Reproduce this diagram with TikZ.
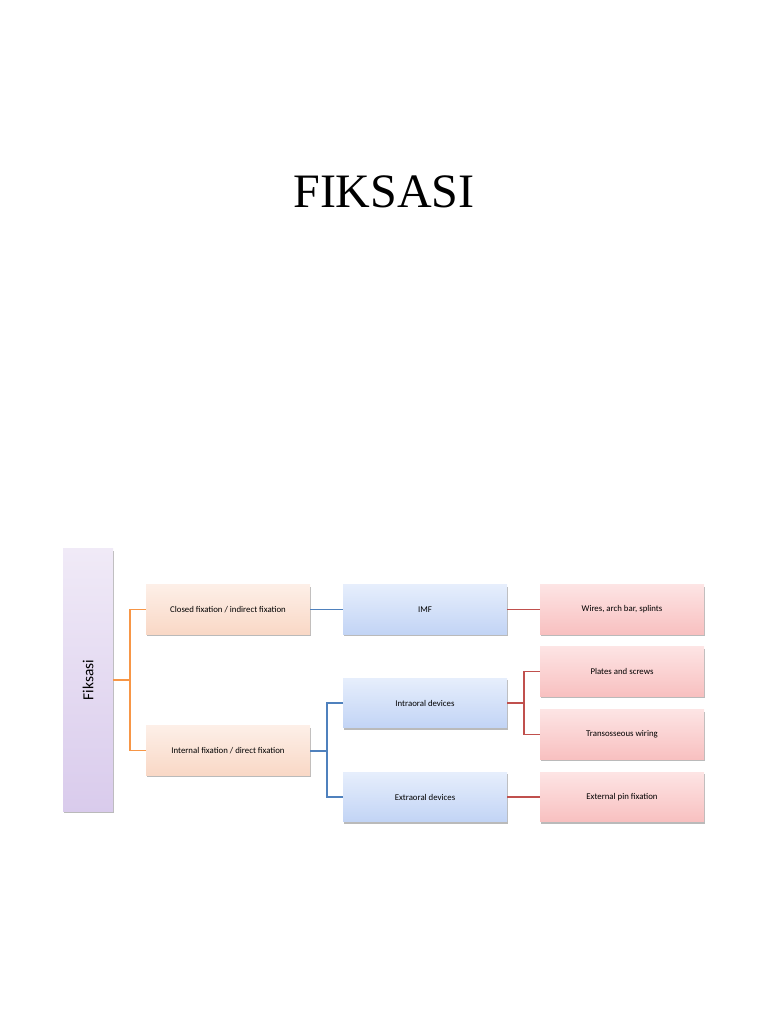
\documentclass[tikz,border=0pt]{standalone}
\usepackage{fontspec}
\setmainfont{Liberation Serif}
\newfontfamily\boxfont{Carlito}
\usetikzlibrary{positioning, shadows}

\definecolor{peachtop}{HTML}{FDEFE7}
\definecolor{peachbot}{HTML}{F9D8C6}
\definecolor{bluetop}{HTML}{E6EEFC}
\definecolor{bluebot}{HTML}{C2D4F5}
\definecolor{pinktop}{HTML}{FDE4E4}
\definecolor{pinkbot}{HTML}{F8C0C0}
\definecolor{lilactop}{HTML}{F0EAF7}
\definecolor{lilacbot}{HTML}{D9CBEC}
\definecolor{orangeline}{HTML}{F79646}
\definecolor{blueline}{HTML}{4F81BD}
\definecolor{redline}{HTML}{C0504D}

\tikzset{
  card/.style={minimum width=123pt, minimum height=37pt, inner sep=0pt,
    font=\boxfont\fontsize{6.6}{8}\selectfont,
    drop shadow={shadow xshift=0.8pt, shadow yshift=-1.5pt, fill=black!45, opacity=0.6}},
  peachbox/.style={card, top color=peachtop, bottom color=peachbot},
  bluebox/.style={card, top color=bluetop, bottom color=bluebot},
  pinkbox/.style={card, top color=pinktop, bottom color=pinkbot},
  thinlink/.style={line width=0.8pt},
  thicklink/.style={line width=1.5pt}
}

\begin{document}
\begin{tikzpicture}[x=0.75pt, y=-0.75pt]
\useasboundingbox (0,0) rectangle (768,1024);

\node (title) at (384,192) {\fontsize{36}{40}\selectfont FIKSASI};

% root
\node[minimum width=37.5pt, minimum height=197pt, inner sep=0pt,
      top color=lilactop, bottom color=lilacbot,
      drop shadow={shadow xshift=0.8pt, shadow yshift=-1.5pt, fill=black!45, opacity=0.6}]
      (fiksasi) at (88,680) {};
\node[rotate=90, font=\boxfont\fontsize{11.5}{13}\selectfont] (fiksasilabel) at (fiksasi.center) {Fiksasi};

% second level
\node[peachbox] (closed) at (228,609.5) {Closed fixation / indirect fixation};
\node[peachbox] (internal) at (228,750.5) {Internal fixation / direct fixation};

% third level
\node[bluebox] (imf) at (425,609.5) {IMF};
\node[bluebox] (intra) at (425,703) {Intraoral devices};
\node[bluebox] (extra) at (425,797) {Extraoral devices};

% leaves
\node[pinkbox] (wires) at (622,609.5) {Wires, arch bar, splints};
\node[pinkbox] (plates) at (622,671.5) {Plates and screws};
\node[pinkbox] (trans) at (622,734.5) {Transosseous wiring};
\node[pinkbox] (pin) at (622,797) {External pin fixation};

% connectors
\coordinate (jroot) at (130,680);
\coordinate (jint) at (327,750.5);
\coordinate (jintra) at (524,703);

\draw[thicklink, orangeline] (fiksasi.east) -- (jroot);
\draw[thinlink, orangeline] (jroot) |- (closed.west);
\draw[thinlink, orangeline] (jroot) |- (internal.west);

\draw[thinlink, blueline] (closed.east) -- (imf.west);
\draw[thicklink, blueline] (internal.east) -- (jint);
\draw[thinlink, blueline] (jint) |- (intra.west);
\draw[thinlink, blueline] (jint) |- (extra.west);

\draw[thinlink, redline] (imf.east) -- (wires.west);
\draw[thinlink, redline] (intra.east) -- (jintra);
\draw[thinlink, redline] (jintra) |- (plates.west);
\draw[thinlink, redline] (jintra) |- (trans.west);
\draw[thicklink, redline] (extra.east) -- (pin.west);

\end{tikzpicture}
\end{document}
